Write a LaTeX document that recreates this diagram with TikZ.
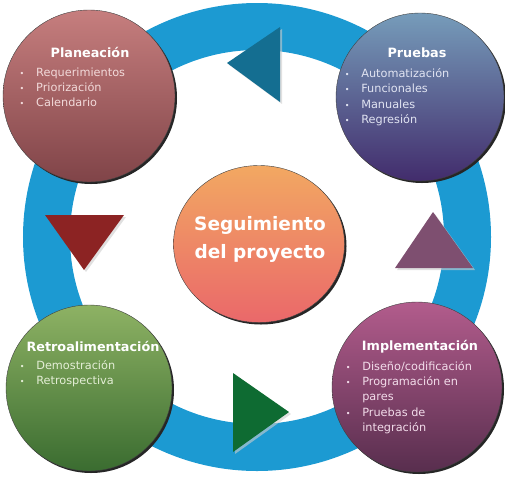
\documentclass[tikz,border=0pt]{standalone}
\usepackage{fontspec}
\setmainfont{DejaVu Sans}
\usetikzlibrary{shapes.geometric}
\definecolor{ringblue}{RGB}{28,154,210}
\definecolor{plantop}{RGB}{198,126,126}
\definecolor{planbot}{RGB}{128,68,72}
\definecolor{prutop}{RGB}{118,156,186}
\definecolor{prubot}{RGB}{66,44,108}
\definecolor{rettop}{RGB}{142,178,100}
\definecolor{retbot}{RGB}{58,108,48}
\definecolor{imptop}{RGB}{178,92,140}
\definecolor{impbot}{RGB}{88,46,78}
\definecolor{centop}{RGB}{242,168,98}
\definecolor{cenbot}{RGB}{234,104,106}
\definecolor{tribluec}{RGB}{20,110,145}
\definecolor{trimauve}{RGB}{126,79,112}
\definecolor{trired}{RGB}{140,35,35}
\definecolor{trigreen}{RGB}{14,107,50}
\newcommand\bl{\makebox[16.5pt][l]{\fontsize{8}{8}\selectfont\textbullet}}
\begin{document}
\begin{tikzpicture}[x=1pt,y=-1pt,
  bubble/.style={circle, inner sep=0pt, minimum size=#1, draw=black!75, line width=0.4pt},
  title/.style={font=\fontsize{12.8}{14}\selectfont\bfseries, text=white, inner sep=0pt, anchor=base},
  listtext/.style={font=\fontsize{11.3}{15.3}\selectfont, inner sep=0pt, anchor=north west},
  shade/.style={fill=black!85}]
\useasboundingbox (0,0) rectangle (505,480);
% ring
\draw[ringblue, line width=47pt] (257,237) circle (210.5);
% triangles
\fill[black!20, opacity=0.6] (282,29) -- (282,104) -- (229,65) -- cycle;
\fill[tribluec] (280,27) -- (280,102) -- (227,63) -- cycle;
\fill[black!20, opacity=0.6] (435,214) -- (475,270) -- (397,270) -- cycle;
\fill[trimauve] (433,212) -- (473,268) -- (395,268) -- cycle;
\fill[black!20, opacity=0.6] (47,217) -- (126,217) -- (86,272) -- cycle;
\fill[trired] (45,215) -- (124,215) -- (84,270) -- cycle;
\fill[black!20, opacity=0.6] (235,375) -- (291,414) -- (235,454) -- cycle;
\fill[trigreen] (233,373) -- (289,412) -- (233,452) -- cycle;
% shadows
\fill[shade] (91,98) circle (86);
\fill[shade] (422,99) circle (84);
\fill[shade] (91,390) circle (83);
\fill[shade] (419,389) circle (85);
\fill[shade] (261,246) ellipse (85.5 and 78.5);
% bubbles
\node[bubble=172pt, top color=plantop, bottom color=planbot] (plan) at (89,96) {};
\node[bubble=168pt, top color=prutop, bottom color=prubot] (pru) at (420,97) {};
\node[bubble=166pt, top color=rettop, bottom color=retbot] (ret) at (89,388) {};
\node[bubble=170pt, top color=imptop, bottom color=impbot] (imp) at (417,387) {};
\node[ellipse, inner sep=0pt, minimum width=171pt, minimum height=157pt, draw=black!75, line width=0.4pt, top color=centop, bottom color=cenbot] (cen) at (259,244) {};
% titles
\node[title] (plant) at (90,57) {Planeación};
\node[title] (prut) at (417,57) {Pruebas};
\node[title] (rett) at (93,351) {Retroalimentación};
\node[title] (impt) at (420,350) {Implementación};
\node[font=\fontsize{18.5}{27.5}\selectfont\bfseries, text=white, align=center, inner sep=0pt, anchor=base] (cent) at (260,258) {Seguimiento\\del proyecto};
% lists
\node[listtext, text={rgb,255:red,242;green,218;blue,218}] (planl) at (19.5,65.2) {%
\begin{tabular}{@{}l@{}l@{}}\bl&Requerimientos\\ \bl&Priorización\\ \bl&Calendario\end{tabular}};
\node[listtext, text={rgb,255:red,225;green,228;blue,242}] (prul) at (344.6,66.5) {%
\begin{tabular}{@{}l@{}l@{}}\bl&Automatización\\ \bl&Funcionales\\ \bl&Manuales\\ \bl&Regresión\end{tabular}};
\node[listtext, text={rgb,255:red,228;green,238;blue,214}] (retl) at (19.6,358.4) {%
\begin{tabular}{@{}l@{}l@{}}\bl&Demostración\\ \bl&Retrospectiva\end{tabular}};
\node[listtext, text={rgb,255:red,242;green,220;blue,234}] (impl) at (345.6,359.4) {%
\begin{tabular}{@{}l@{}l@{}}\bl&Diseño/codificación\\ \bl&Programación en\\ &pares\\ \bl&Pruebas de\\ &integración\end{tabular}};
\end{tikzpicture}
\end{document}
